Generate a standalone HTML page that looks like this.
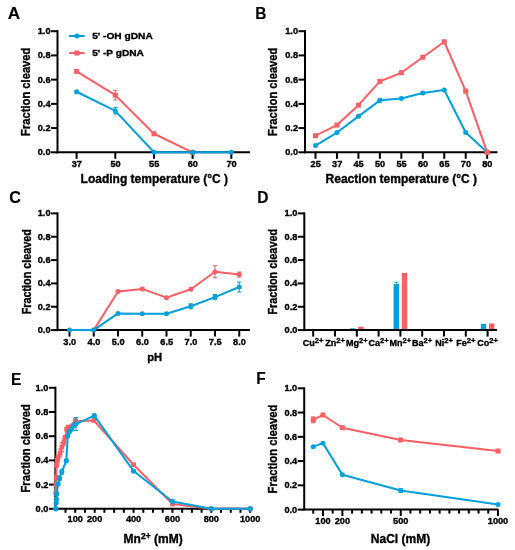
<!DOCTYPE html>
<html><head><meta charset="utf-8"><title>Figure</title>
<style>
html,body{margin:0;padding:0;background:#fff;}
body{width:515px;height:550px;overflow:hidden;}
svg{display:block;}
svg text{font-family:"Liberation Sans", Arial, sans-serif;font-weight:bold;fill:#000;stroke:#000;stroke-width:0.35px;}
</style></head><body>
<svg width="515" height="550" viewBox="0 0 515 550">
<rect width="515" height="550" fill="#fff"/>
<text transform="translate(7.7,18.6) scale(1.04,1)" font-size="16.5" style="stroke-width:0.15px">A</text>
<text transform="translate(29.7,91.75) rotate(-90) scale(0.918,1)" font-size="12.2" text-anchor="middle">Fraction cleaved</text>
<line x1="57.5" y1="30.2" x2="57.5" y2="153.3" stroke="#000" stroke-width="2"/>
<line x1="51" y1="152.3" x2="57.5" y2="152.3" stroke="#000" stroke-width="2"/>
<text x="50.5" y="155.3" font-size="9.2" text-anchor="end" >0.0</text>
<line x1="51" y1="128.08" x2="57.5" y2="128.08" stroke="#000" stroke-width="2"/>
<text x="50.5" y="131.08" font-size="9.2" text-anchor="end" >0.2</text>
<line x1="51" y1="103.86" x2="57.5" y2="103.86" stroke="#000" stroke-width="2"/>
<text x="50.5" y="106.86" font-size="9.2" text-anchor="end" >0.4</text>
<line x1="51" y1="79.64" x2="57.5" y2="79.64" stroke="#000" stroke-width="2"/>
<text x="50.5" y="82.64" font-size="9.2" text-anchor="end" >0.6</text>
<line x1="51" y1="55.42" x2="57.5" y2="55.42" stroke="#000" stroke-width="2"/>
<text x="50.5" y="58.42" font-size="9.2" text-anchor="end" >0.8</text>
<line x1="51" y1="31.2" x2="57.5" y2="31.2" stroke="#000" stroke-width="2"/>
<text x="50.5" y="34.2" font-size="9.2" text-anchor="end" >1.0</text>
<line x1="56.5" y1="152.3" x2="250" y2="152.3" stroke="#000" stroke-width="2"/>
<line x1="76.6" y1="152.3" x2="76.6" y2="158.8" stroke="#000" stroke-width="2"/>
<text x="76.8" y="166.8" font-size="9.2" text-anchor="middle" >37</text>
<line x1="115.3" y1="152.3" x2="115.3" y2="158.8" stroke="#000" stroke-width="2"/>
<text x="115.5" y="166.8" font-size="9.2" text-anchor="middle" >50</text>
<line x1="154" y1="152.3" x2="154" y2="158.8" stroke="#000" stroke-width="2"/>
<text x="154.2" y="166.8" font-size="9.2" text-anchor="middle" >55</text>
<line x1="192.6" y1="152.3" x2="192.6" y2="158.8" stroke="#000" stroke-width="2"/>
<text x="192.8" y="166.8" font-size="9.2" text-anchor="middle" >60</text>
<line x1="231.3" y1="152.3" x2="231.3" y2="158.8" stroke="#000" stroke-width="2"/>
<text x="231.5" y="166.8" font-size="9.2" text-anchor="middle" >70</text>
<text x="154.35" y="182.6" font-size="12" text-anchor="middle" >Loading temperature (°C )</text>
<polyline points="76.6,71.41 115.3,95.14 154,133.77 192.6,152.3" fill="none" stroke="#fa5f64" stroke-width="2" stroke-linejoin="round"/>
<path d="M113.1,90.34H117.5M115.3,90.34V99.94M113.1,99.94H117.5" stroke="#fa5f64" stroke-width="1" fill="none"/>
<rect x="74.1" y="68.91" width="5" height="5" fill="#fa5f64"/>
<rect x="112.8" y="92.64" width="5" height="5" fill="#fa5f64"/>
<rect x="151.5" y="131.27" width="5" height="5" fill="#fa5f64"/>
<rect x="190.1" y="149.8" width="5" height="5" fill="#fa5f64"/>
<polyline points="76.6,91.75 115.3,110.88 154,152.3 192.6,152.3 231.3,152.3" fill="none" stroke="#00a0dc" stroke-width="2" stroke-linejoin="round"/>
<path d="M113.1,107.68H117.5M115.3,107.68V114.08M113.1,114.08H117.5" stroke="#00a0dc" stroke-width="1" fill="none"/>
<circle cx="76.6" cy="91.75" r="2.5" fill="#00a0dc"/>
<circle cx="115.3" cy="110.88" r="2.5" fill="#00a0dc"/>
<circle cx="154" cy="152.3" r="2.5" fill="#00a0dc"/>
<circle cx="192.6" cy="152.3" r="2.5" fill="#00a0dc"/>
<circle cx="231.3" cy="152.3" r="2.5" fill="#00a0dc"/>
<line x1="69.1" y1="36" x2="84.6" y2="36" stroke="#00a0dc" stroke-width="2"/>
<circle cx="76.8" cy="36" r="2.5" fill="#00a0dc"/>
<line x1="69.1" y1="53" x2="84.6" y2="53" stroke="#fa5f64" stroke-width="2"/>
<rect x="74.4" y="50.5" width="5" height="5" fill="#fa5f64"/>
<text x="92.2" y="39.1" font-size="9.3" textLength="60.6" lengthAdjust="spacingAndGlyphs">5' -OH gDNA</text>
<text x="92.2" y="55.8" font-size="9.3" textLength="51.6" lengthAdjust="spacingAndGlyphs">5' -P gDNA</text>
<text transform="translate(255.2,18.6) scale(0.94,1)" font-size="16.5" style="stroke-width:0.15px">B</text>
<text transform="translate(277.3,91.75) rotate(-90) scale(0.918,1)" font-size="12.2" text-anchor="middle">Fraction cleaved</text>
<line x1="305" y1="30.2" x2="305" y2="153.3" stroke="#000" stroke-width="2"/>
<line x1="298.5" y1="152.3" x2="305" y2="152.3" stroke="#000" stroke-width="2"/>
<text x="298" y="155.3" font-size="9.2" text-anchor="end" >0.0</text>
<line x1="298.5" y1="128.08" x2="305" y2="128.08" stroke="#000" stroke-width="2"/>
<text x="298" y="131.08" font-size="9.2" text-anchor="end" >0.2</text>
<line x1="298.5" y1="103.86" x2="305" y2="103.86" stroke="#000" stroke-width="2"/>
<text x="298" y="106.86" font-size="9.2" text-anchor="end" >0.4</text>
<line x1="298.5" y1="79.64" x2="305" y2="79.64" stroke="#000" stroke-width="2"/>
<text x="298" y="82.64" font-size="9.2" text-anchor="end" >0.6</text>
<line x1="298.5" y1="55.42" x2="305" y2="55.42" stroke="#000" stroke-width="2"/>
<text x="298" y="58.42" font-size="9.2" text-anchor="end" >0.8</text>
<line x1="298.5" y1="31.2" x2="305" y2="31.2" stroke="#000" stroke-width="2"/>
<text x="298" y="34.2" font-size="9.2" text-anchor="end" >1.0</text>
<line x1="304" y1="152.3" x2="497.5" y2="152.3" stroke="#000" stroke-width="2"/>
<line x1="315.5" y1="152.3" x2="315.5" y2="158.8" stroke="#000" stroke-width="2"/>
<text x="315.7" y="166.8" font-size="9.2" text-anchor="middle" >25</text>
<line x1="336.96" y1="152.3" x2="336.96" y2="158.8" stroke="#000" stroke-width="2"/>
<text x="337.16" y="166.8" font-size="9.2" text-anchor="middle" >37</text>
<line x1="358.42" y1="152.3" x2="358.42" y2="158.8" stroke="#000" stroke-width="2"/>
<text x="358.62" y="166.8" font-size="9.2" text-anchor="middle" >45</text>
<line x1="379.88" y1="152.3" x2="379.88" y2="158.8" stroke="#000" stroke-width="2"/>
<text x="380.08" y="166.8" font-size="9.2" text-anchor="middle" >50</text>
<line x1="401.34" y1="152.3" x2="401.34" y2="158.8" stroke="#000" stroke-width="2"/>
<text x="401.54" y="166.8" font-size="9.2" text-anchor="middle" >55</text>
<line x1="422.8" y1="152.3" x2="422.8" y2="158.8" stroke="#000" stroke-width="2"/>
<text x="423" y="166.8" font-size="9.2" text-anchor="middle" >60</text>
<line x1="444.26" y1="152.3" x2="444.26" y2="158.8" stroke="#000" stroke-width="2"/>
<text x="444.46" y="166.8" font-size="9.2" text-anchor="middle" >65</text>
<line x1="465.72" y1="152.3" x2="465.72" y2="158.8" stroke="#000" stroke-width="2"/>
<text x="465.92" y="166.8" font-size="9.2" text-anchor="middle" >70</text>
<line x1="487.18" y1="152.3" x2="487.18" y2="158.8" stroke="#000" stroke-width="2"/>
<text x="487.38" y="166.8" font-size="9.2" text-anchor="middle" >80</text>
<text x="401.3" y="182.6" font-size="12" text-anchor="middle" >Reaction temperature (°C )</text>
<polyline points="315.5,145.52 336.96,132.56 358.42,116.33 379.88,100.35 401.34,98.53 422.8,93.08 444.26,89.93 465.72,132.56 487.18,152.3" fill="none" stroke="#00a0dc" stroke-width="2" stroke-linejoin="round"/>
<path d="M377.68,98.55H382.08M379.88,98.55V102.15M377.68,102.15H382.08" stroke="#00a0dc" stroke-width="1" fill="none"/>
<circle cx="315.5" cy="145.52" r="2.5" fill="#00a0dc"/>
<circle cx="336.96" cy="132.56" r="2.5" fill="#00a0dc"/>
<circle cx="358.42" cy="116.33" r="2.5" fill="#00a0dc"/>
<circle cx="379.88" cy="100.35" r="2.5" fill="#00a0dc"/>
<circle cx="401.34" cy="98.53" r="2.5" fill="#00a0dc"/>
<circle cx="422.8" cy="93.08" r="2.5" fill="#00a0dc"/>
<circle cx="444.26" cy="89.93" r="2.5" fill="#00a0dc"/>
<circle cx="465.72" cy="132.56" r="2.5" fill="#00a0dc"/>
<circle cx="487.18" cy="152.3" r="2.5" fill="#00a0dc"/>
<polyline points="315.5,135.71 336.96,125.05 358.42,105.19 379.88,81.34 401.34,72.74 422.8,57.24 444.26,41.74 465.72,91.14 487.18,152.3" fill="none" stroke="#fa5f64" stroke-width="2" stroke-linejoin="round"/>
<rect x="313" y="133.21" width="5" height="5" fill="#fa5f64"/>
<rect x="334.46" y="122.55" width="5" height="5" fill="#fa5f64"/>
<rect x="355.92" y="102.69" width="5" height="5" fill="#fa5f64"/>
<rect x="377.38" y="78.84" width="5" height="5" fill="#fa5f64"/>
<rect x="398.84" y="70.24" width="5" height="5" fill="#fa5f64"/>
<rect x="420.3" y="54.74" width="5" height="5" fill="#fa5f64"/>
<rect x="441.76" y="39.24" width="5" height="5" fill="#fa5f64"/>
<rect x="463.22" y="88.64" width="5" height="5" fill="#fa5f64"/>
<rect x="484.68" y="149.8" width="5" height="5" fill="#fa5f64"/>
<text transform="translate(9.3,203.3) scale(0.98,1)" font-size="16.5" style="stroke-width:0.15px">C</text>
<text transform="translate(31.2,271.75) rotate(-90) scale(0.883,1)" font-size="12.2" text-anchor="middle">Fraction cleaved</text>
<line x1="57.5" y1="212.4" x2="57.5" y2="331.1" stroke="#000" stroke-width="2"/>
<line x1="51" y1="330.1" x2="57.5" y2="330.1" stroke="#000" stroke-width="2"/>
<text x="50.5" y="333.1" font-size="9.2" text-anchor="end" >0.0</text>
<line x1="51" y1="306.76" x2="57.5" y2="306.76" stroke="#000" stroke-width="2"/>
<text x="50.5" y="309.76" font-size="9.2" text-anchor="end" >0.2</text>
<line x1="51" y1="283.42" x2="57.5" y2="283.42" stroke="#000" stroke-width="2"/>
<text x="50.5" y="286.42" font-size="9.2" text-anchor="end" >0.4</text>
<line x1="51" y1="260.08" x2="57.5" y2="260.08" stroke="#000" stroke-width="2"/>
<text x="50.5" y="263.08" font-size="9.2" text-anchor="end" >0.6</text>
<line x1="51" y1="236.74" x2="57.5" y2="236.74" stroke="#000" stroke-width="2"/>
<text x="50.5" y="239.74" font-size="9.2" text-anchor="end" >0.8</text>
<line x1="51" y1="213.4" x2="57.5" y2="213.4" stroke="#000" stroke-width="2"/>
<text x="50.5" y="216.4" font-size="9.2" text-anchor="end" >1.0</text>
<line x1="56.5" y1="330.1" x2="250" y2="330.1" stroke="#000" stroke-width="2"/>
<line x1="69.5" y1="330.1" x2="69.5" y2="336.6" stroke="#000" stroke-width="2"/>
<text x="69.7" y="344.6" font-size="9.2" text-anchor="middle" >3.0</text>
<line x1="93.75" y1="330.1" x2="93.75" y2="336.6" stroke="#000" stroke-width="2"/>
<text x="93.95" y="344.6" font-size="9.2" text-anchor="middle" >4.0</text>
<line x1="118" y1="330.1" x2="118" y2="336.6" stroke="#000" stroke-width="2"/>
<text x="118.2" y="344.6" font-size="9.2" text-anchor="middle" >5.0</text>
<line x1="142.25" y1="330.1" x2="142.25" y2="336.6" stroke="#000" stroke-width="2"/>
<text x="142.45" y="344.6" font-size="9.2" text-anchor="middle" >6.0</text>
<line x1="166.5" y1="330.1" x2="166.5" y2="336.6" stroke="#000" stroke-width="2"/>
<text x="166.7" y="344.6" font-size="9.2" text-anchor="middle" >6.5</text>
<line x1="190.75" y1="330.1" x2="190.75" y2="336.6" stroke="#000" stroke-width="2"/>
<text x="190.95" y="344.6" font-size="9.2" text-anchor="middle" >7.0</text>
<line x1="215" y1="330.1" x2="215" y2="336.6" stroke="#000" stroke-width="2"/>
<text x="215.2" y="344.6" font-size="9.2" text-anchor="middle" >7.5</text>
<line x1="239.25" y1="330.1" x2="239.25" y2="336.6" stroke="#000" stroke-width="2"/>
<text x="239.45" y="344.6" font-size="9.2" text-anchor="middle" >8.0</text>
<text x="154.6" y="361.2" font-size="11.2" text-anchor="middle" >pH</text>
<polyline points="93.75,330.1 118,291.59 142.25,288.9 166.5,297.66 190.75,289.25 215,271.75 239.25,274.55" fill="none" stroke="#fa5f64" stroke-width="2" stroke-linejoin="round"/>
<path d="M140.05,287.4H144.45M142.25,287.4V290.4M140.05,290.4H144.45" stroke="#fa5f64" stroke-width="1" fill="none"/>
<path d="M212.8,265.75H217.2M215,265.75V277.75M212.8,277.75H217.2" stroke="#fa5f64" stroke-width="1" fill="none"/>
<path d="M237.05,272.05H241.45M239.25,272.05V277.05M237.05,277.05H241.45" stroke="#fa5f64" stroke-width="1" fill="none"/>
<circle cx="93.75" cy="330.1" r="2.5" fill="#fa5f64"/>
<circle cx="118" cy="291.59" r="2.5" fill="#fa5f64"/>
<circle cx="142.25" cy="288.9" r="2.5" fill="#fa5f64"/>
<circle cx="166.5" cy="297.66" r="2.5" fill="#fa5f64"/>
<circle cx="190.75" cy="289.25" r="2.5" fill="#fa5f64"/>
<circle cx="215" cy="271.75" r="2.5" fill="#fa5f64"/>
<circle cx="239.25" cy="274.55" r="2.5" fill="#fa5f64"/>
<polyline points="69.5,330.1 93.75,330.1 118,313.41 142.25,313.76 166.5,313.76 190.75,306.29 215,297.07 239.25,287.04" fill="none" stroke="#00a0dc" stroke-width="2" stroke-linejoin="round"/>
<path d="M188.55,303.79H192.95M190.75,303.79V308.79M188.55,308.79H192.95" stroke="#00a0dc" stroke-width="1" fill="none"/>
<path d="M212.8,294.57H217.2M215,294.57V299.57M212.8,299.57H217.2" stroke="#00a0dc" stroke-width="1" fill="none"/>
<path d="M237.05,282.04H241.45M239.25,282.04V292.04M237.05,292.04H241.45" stroke="#00a0dc" stroke-width="1" fill="none"/>
<circle cx="69.5" cy="330.1" r="2.5" fill="#00a0dc"/>
<circle cx="93.75" cy="330.1" r="2.5" fill="#00a0dc"/>
<circle cx="118" cy="313.41" r="2.5" fill="#00a0dc"/>
<circle cx="142.25" cy="313.76" r="2.5" fill="#00a0dc"/>
<circle cx="166.5" cy="313.76" r="2.5" fill="#00a0dc"/>
<circle cx="190.75" cy="306.29" r="2.5" fill="#00a0dc"/>
<circle cx="215" cy="297.07" r="2.5" fill="#00a0dc"/>
<circle cx="239.25" cy="287.04" r="2.5" fill="#00a0dc"/>
<text transform="translate(257.2,202.8) scale(0.94,1)" font-size="16.5" style="stroke-width:0.15px">D</text>
<text transform="translate(276.7,271.75) rotate(-90) scale(0.891,1)" font-size="12.2" text-anchor="middle">Fraction cleaved</text>
<rect x="350" y="328.35" width="5.4" height="1.75" fill="#00a0dc"/>
<rect x="393.6" y="284" width="5.4" height="46.1" fill="#00a0dc"/>
<rect x="480.8" y="323.8" width="5.4" height="6.3" fill="#00a0dc"/>
<rect x="358.2" y="326.6" width="5.4" height="3.5" fill="#fa5f64"/>
<rect x="401.8" y="272.92" width="5.4" height="57.18" fill="#fa5f64"/>
<rect x="489" y="323.45" width="5.4" height="6.65" fill="#fa5f64"/>
<path d="M394.3,282.25H398.3M396.3,282.25V284" stroke="#00a0dc" stroke-width="1"/>
<line x1="304.3" y1="212.4" x2="304.3" y2="331.1" stroke="#000" stroke-width="2"/>
<line x1="297.8" y1="330.1" x2="304.3" y2="330.1" stroke="#000" stroke-width="2"/>
<text x="297.3" y="333.1" font-size="9.2" text-anchor="end" >0.0</text>
<line x1="297.8" y1="306.76" x2="304.3" y2="306.76" stroke="#000" stroke-width="2"/>
<text x="297.3" y="309.76" font-size="9.2" text-anchor="end" >0.2</text>
<line x1="297.8" y1="283.42" x2="304.3" y2="283.42" stroke="#000" stroke-width="2"/>
<text x="297.3" y="286.42" font-size="9.2" text-anchor="end" >0.4</text>
<line x1="297.8" y1="260.08" x2="304.3" y2="260.08" stroke="#000" stroke-width="2"/>
<text x="297.3" y="263.08" font-size="9.2" text-anchor="end" >0.6</text>
<line x1="297.8" y1="236.74" x2="304.3" y2="236.74" stroke="#000" stroke-width="2"/>
<text x="297.3" y="239.74" font-size="9.2" text-anchor="end" >0.8</text>
<line x1="297.8" y1="213.4" x2="304.3" y2="213.4" stroke="#000" stroke-width="2"/>
<text x="297.3" y="216.4" font-size="9.2" text-anchor="end" >1.0</text>
<line x1="303.3" y1="330.1" x2="497" y2="330.1" stroke="#000" stroke-width="2"/>
<line x1="313.2" y1="330.1" x2="313.2" y2="336.6" stroke="#000" stroke-width="2"/>
<text x="313.2" y="345.6" font-size="9" text-anchor="middle">Cu<tspan font-size="7.6" dy="-2.2">2+</tspan></text>
<line x1="335" y1="330.1" x2="335" y2="336.6" stroke="#000" stroke-width="2"/>
<text x="335" y="345.6" font-size="9" text-anchor="middle">Zn<tspan font-size="7.6" dy="-2.2">2+</tspan></text>
<line x1="356.8" y1="330.1" x2="356.8" y2="336.6" stroke="#000" stroke-width="2"/>
<text x="356.8" y="345.6" font-size="9" text-anchor="middle">Mg<tspan font-size="7.6" dy="-2.2">2+</tspan></text>
<line x1="378.6" y1="330.1" x2="378.6" y2="336.6" stroke="#000" stroke-width="2"/>
<text x="378.6" y="345.6" font-size="9" text-anchor="middle">Ca<tspan font-size="7.6" dy="-2.2">2+</tspan></text>
<line x1="400.4" y1="330.1" x2="400.4" y2="336.6" stroke="#000" stroke-width="2"/>
<text x="400.4" y="345.6" font-size="9" text-anchor="middle">Mn<tspan font-size="7.6" dy="-2.2">2+</tspan></text>
<line x1="422.2" y1="330.1" x2="422.2" y2="336.6" stroke="#000" stroke-width="2"/>
<text x="422.2" y="345.6" font-size="9" text-anchor="middle">Ba<tspan font-size="7.6" dy="-2.2">2+</tspan></text>
<line x1="444" y1="330.1" x2="444" y2="336.6" stroke="#000" stroke-width="2"/>
<text x="444" y="345.6" font-size="9" text-anchor="middle">Ni<tspan font-size="7.6" dy="-2.2">2+</tspan></text>
<line x1="465.8" y1="330.1" x2="465.8" y2="336.6" stroke="#000" stroke-width="2"/>
<text x="465.8" y="345.6" font-size="9" text-anchor="middle">Fe<tspan font-size="7.6" dy="-2.2">2+</tspan></text>
<line x1="487.6" y1="330.1" x2="487.6" y2="336.6" stroke="#000" stroke-width="2"/>
<text x="487.6" y="345.6" font-size="9" text-anchor="middle">Co<tspan font-size="7.6" dy="-2.2">2+</tspan></text>
<text transform="translate(11,384.7) scale(0.94,1)" font-size="16.5" style="stroke-width:0.15px">E</text>
<text transform="translate(30.1,448.3) rotate(-90) scale(0.918,1)" font-size="12.2" text-anchor="middle">Fraction cleaved</text>
<line x1="55.4" y1="386.8" x2="55.4" y2="509.8" stroke="#000" stroke-width="2"/>
<line x1="48.9" y1="508.8" x2="55.4" y2="508.8" stroke="#000" stroke-width="2"/>
<text x="48.4" y="511.8" font-size="9.2" text-anchor="end" >0.0</text>
<line x1="48.9" y1="484.6" x2="55.4" y2="484.6" stroke="#000" stroke-width="2"/>
<text x="48.4" y="487.6" font-size="9.2" text-anchor="end" >0.2</text>
<line x1="48.9" y1="460.4" x2="55.4" y2="460.4" stroke="#000" stroke-width="2"/>
<text x="48.4" y="463.4" font-size="9.2" text-anchor="end" >0.4</text>
<line x1="48.9" y1="436.2" x2="55.4" y2="436.2" stroke="#000" stroke-width="2"/>
<text x="48.4" y="439.2" font-size="9.2" text-anchor="end" >0.6</text>
<line x1="48.9" y1="412" x2="55.4" y2="412" stroke="#000" stroke-width="2"/>
<text x="48.4" y="415" font-size="9.2" text-anchor="end" >0.8</text>
<line x1="48.9" y1="387.8" x2="55.4" y2="387.8" stroke="#000" stroke-width="2"/>
<text x="48.4" y="390.8" font-size="9.2" text-anchor="end" >1.0</text>
<line x1="54.4" y1="508.8" x2="250.5" y2="508.8" stroke="#000" stroke-width="2"/>
<line x1="65.52" y1="508.8" x2="65.52" y2="512.8" stroke="#000" stroke-width="2"/>
<line x1="75.24" y1="508.8" x2="75.24" y2="512.8" stroke="#000" stroke-width="2"/>
<line x1="84.96" y1="508.8" x2="84.96" y2="512.8" stroke="#000" stroke-width="2"/>
<line x1="94.68" y1="508.8" x2="94.68" y2="512.8" stroke="#000" stroke-width="2"/>
<line x1="104.4" y1="508.8" x2="104.4" y2="512.8" stroke="#000" stroke-width="2"/>
<line x1="114.12" y1="508.8" x2="114.12" y2="512.8" stroke="#000" stroke-width="2"/>
<line x1="123.84" y1="508.8" x2="123.84" y2="512.8" stroke="#000" stroke-width="2"/>
<line x1="133.56" y1="508.8" x2="133.56" y2="512.8" stroke="#000" stroke-width="2"/>
<line x1="143.28" y1="508.8" x2="143.28" y2="512.8" stroke="#000" stroke-width="2"/>
<line x1="153" y1="508.8" x2="153" y2="512.8" stroke="#000" stroke-width="2"/>
<line x1="162.72" y1="508.8" x2="162.72" y2="512.8" stroke="#000" stroke-width="2"/>
<line x1="172.44" y1="508.8" x2="172.44" y2="512.8" stroke="#000" stroke-width="2"/>
<line x1="182.16" y1="508.8" x2="182.16" y2="512.8" stroke="#000" stroke-width="2"/>
<line x1="191.88" y1="508.8" x2="191.88" y2="512.8" stroke="#000" stroke-width="2"/>
<line x1="201.6" y1="508.8" x2="201.6" y2="512.8" stroke="#000" stroke-width="2"/>
<line x1="211.32" y1="508.8" x2="211.32" y2="512.8" stroke="#000" stroke-width="2"/>
<line x1="221.04" y1="508.8" x2="221.04" y2="512.8" stroke="#000" stroke-width="2"/>
<line x1="230.76" y1="508.8" x2="230.76" y2="512.8" stroke="#000" stroke-width="2"/>
<line x1="240.48" y1="508.8" x2="240.48" y2="512.8" stroke="#000" stroke-width="2"/>
<line x1="250.2" y1="508.8" x2="250.2" y2="512.8" stroke="#000" stroke-width="2"/>
<text x="75.24" y="522.4" font-size="9.2" text-anchor="middle" >100</text>
<text x="94.68" y="522.4" font-size="9.2" text-anchor="middle" >200</text>
<text x="133.56" y="522.4" font-size="9.2" text-anchor="middle" >400</text>
<text x="172.44" y="522.4" font-size="9.2" text-anchor="middle" >600</text>
<text x="211.32" y="522.4" font-size="9.2" text-anchor="middle" >800</text>
<text x="250.2" y="522.4" font-size="9.2" text-anchor="middle" >1000</text>
<text x="123.6" y="543.2" font-size="12" text-anchor="start">Mn<tspan font-size="8.6" dy="-4.2">2+</tspan><tspan dy="4.2"> (mM)</tspan></text>
<polyline points="55.8,493.07 55.99,484.6 56.19,477.34 56.58,465.24 57.36,460.4 57.94,457.98 60.08,453.14 61.83,447.09 63.96,442.25 65.13,437.41 66.69,429.18 68.44,427.12 75.43,420.95 93.9,420.47 133.56,464.76 172.44,503.96 211.32,508.8 250.2,508.8" fill="none" stroke="#fa5f64" stroke-width="2" stroke-linejoin="round"/>
<path d="M57.88,449.14H62.28M60.08,449.14V457.14M57.88,457.14H62.28" stroke="#fa5f64" stroke-width="1" fill="none"/>
<path d="M59.63,442.59H64.03M61.83,442.59V451.59M59.63,451.59H64.03" stroke="#fa5f64" stroke-width="1" fill="none"/>
<path d="M61.76,438.75H66.16M63.96,438.75V445.75M61.76,445.75H66.16" stroke="#fa5f64" stroke-width="1" fill="none"/>
<path d="M55.74,454.98H60.14M57.94,454.98V460.98M55.74,460.98H60.14" stroke="#fa5f64" stroke-width="1" fill="none"/>
<path d="M73.23,418.45H77.63M75.43,418.45V423.45M73.23,423.45H77.63" stroke="#fa5f64" stroke-width="1" fill="none"/>
<rect x="53.4" y="490.67" width="4.8" height="4.8" fill="#fa5f64"/>
<rect x="53.59" y="482.2" width="4.8" height="4.8" fill="#fa5f64"/>
<rect x="53.79" y="474.94" width="4.8" height="4.8" fill="#fa5f64"/>
<rect x="54.18" y="462.84" width="4.8" height="4.8" fill="#fa5f64"/>
<rect x="54.96" y="458" width="4.8" height="4.8" fill="#fa5f64"/>
<rect x="55.54" y="455.58" width="4.8" height="4.8" fill="#fa5f64"/>
<rect x="57.68" y="450.74" width="4.8" height="4.8" fill="#fa5f64"/>
<rect x="59.43" y="444.69" width="4.8" height="4.8" fill="#fa5f64"/>
<rect x="61.56" y="439.85" width="4.8" height="4.8" fill="#fa5f64"/>
<rect x="62.73" y="435.01" width="4.8" height="4.8" fill="#fa5f64"/>
<rect x="64.29" y="426.78" width="4.8" height="4.8" fill="#fa5f64"/>
<rect x="66.04" y="424.73" width="4.8" height="4.8" fill="#fa5f64"/>
<rect x="73.03" y="418.55" width="4.8" height="4.8" fill="#fa5f64"/>
<rect x="91.5" y="418.07" width="4.8" height="4.8" fill="#fa5f64"/>
<rect x="131.16" y="462.36" width="4.8" height="4.8" fill="#fa5f64"/>
<rect x="170.04" y="501.56" width="4.8" height="4.8" fill="#fa5f64"/>
<rect x="208.92" y="506.4" width="4.8" height="4.8" fill="#fa5f64"/>
<rect x="247.8" y="506.4" width="4.8" height="4.8" fill="#fa5f64"/>
<polyline points="55.8,508.8 56.19,502.75 56.38,499.12 56.77,493.68 58.13,483.75 59.49,478.31 61.83,471.77 66.3,460.64 67.85,435.6 69.41,431.6 71.55,428.94 73.88,425.67 76.02,424.1 94.29,415.63 133.56,471.05 172.44,501.42 211.32,508.8 250.2,508.8" fill="none" stroke="#00a0dc" stroke-width="2" stroke-linejoin="round"/>
<path d="M73.82,417.6H78.22M76.02,417.6V430.6M73.82,430.6H78.22" stroke="#00a0dc" stroke-width="1" fill="none"/>
<path d="M57.29,475.81H61.69M59.49,475.81V480.81M57.29,480.81H61.69" stroke="#00a0dc" stroke-width="1" fill="none"/>
<path d="M59.63,469.27H64.03M61.83,469.27V474.27M59.63,474.27H64.03" stroke="#00a0dc" stroke-width="1" fill="none"/>
<circle cx="55.8" cy="508.8" r="2.6" fill="#00a0dc"/>
<circle cx="56.19" cy="502.75" r="2.6" fill="#00a0dc"/>
<circle cx="56.38" cy="499.12" r="2.6" fill="#00a0dc"/>
<circle cx="56.77" cy="493.68" r="2.6" fill="#00a0dc"/>
<circle cx="58.13" cy="483.75" r="2.6" fill="#00a0dc"/>
<circle cx="59.49" cy="478.31" r="2.6" fill="#00a0dc"/>
<circle cx="61.83" cy="471.77" r="2.6" fill="#00a0dc"/>
<circle cx="66.3" cy="460.64" r="2.6" fill="#00a0dc"/>
<circle cx="67.85" cy="435.6" r="2.6" fill="#00a0dc"/>
<circle cx="69.41" cy="431.6" r="2.6" fill="#00a0dc"/>
<circle cx="71.55" cy="428.94" r="2.6" fill="#00a0dc"/>
<circle cx="73.88" cy="425.67" r="2.6" fill="#00a0dc"/>
<circle cx="76.02" cy="424.1" r="2.6" fill="#00a0dc"/>
<circle cx="94.29" cy="415.63" r="2.6" fill="#00a0dc"/>
<circle cx="133.56" cy="471.05" r="2.6" fill="#00a0dc"/>
<circle cx="172.44" cy="501.42" r="2.6" fill="#00a0dc"/>
<circle cx="211.32" cy="508.8" r="2.6" fill="#00a0dc"/>
<circle cx="250.2" cy="508.8" r="2.6" fill="#00a0dc"/>
<text transform="translate(256.2,384.2) scale(0.94,1)" font-size="16.5" style="stroke-width:0.15px">F</text>
<text transform="translate(277.1,448.95) rotate(-90) scale(0.924,1)" font-size="12.2" text-anchor="middle">Fraction cleaved</text>
<line x1="304.2" y1="387.3" x2="304.2" y2="510.6" stroke="#000" stroke-width="2"/>
<line x1="297.7" y1="509.6" x2="304.2" y2="509.6" stroke="#000" stroke-width="2"/>
<text x="297.2" y="512.6" font-size="9.2" text-anchor="end" >0.0</text>
<line x1="297.7" y1="485.34" x2="304.2" y2="485.34" stroke="#000" stroke-width="2"/>
<text x="297.2" y="488.34" font-size="9.2" text-anchor="end" >0.2</text>
<line x1="297.7" y1="461.08" x2="304.2" y2="461.08" stroke="#000" stroke-width="2"/>
<text x="297.2" y="464.08" font-size="9.2" text-anchor="end" >0.4</text>
<line x1="297.7" y1="436.82" x2="304.2" y2="436.82" stroke="#000" stroke-width="2"/>
<text x="297.2" y="439.82" font-size="9.2" text-anchor="end" >0.6</text>
<line x1="297.7" y1="412.56" x2="304.2" y2="412.56" stroke="#000" stroke-width="2"/>
<text x="297.2" y="415.56" font-size="9.2" text-anchor="end" >0.8</text>
<line x1="297.7" y1="388.3" x2="304.2" y2="388.3" stroke="#000" stroke-width="2"/>
<text x="297.2" y="391.3" font-size="9.2" text-anchor="end" >1.0</text>
<line x1="303.2" y1="509.6" x2="498.5" y2="509.6" stroke="#000" stroke-width="2"/>
<line x1="313.23" y1="509.6" x2="313.23" y2="513.6" stroke="#000" stroke-width="2"/>
<line x1="322.95" y1="509.6" x2="322.95" y2="516" stroke="#000" stroke-width="2"/>
<line x1="332.68" y1="509.6" x2="332.68" y2="513.6" stroke="#000" stroke-width="2"/>
<line x1="342.4" y1="509.6" x2="342.4" y2="516" stroke="#000" stroke-width="2"/>
<line x1="352.12" y1="509.6" x2="352.12" y2="513.6" stroke="#000" stroke-width="2"/>
<line x1="361.85" y1="509.6" x2="361.85" y2="513.6" stroke="#000" stroke-width="2"/>
<line x1="371.57" y1="509.6" x2="371.57" y2="513.6" stroke="#000" stroke-width="2"/>
<line x1="381.3" y1="509.6" x2="381.3" y2="513.6" stroke="#000" stroke-width="2"/>
<line x1="391.02" y1="509.6" x2="391.02" y2="513.6" stroke="#000" stroke-width="2"/>
<line x1="400.75" y1="509.6" x2="400.75" y2="516" stroke="#000" stroke-width="2"/>
<line x1="410.48" y1="509.6" x2="410.48" y2="513.6" stroke="#000" stroke-width="2"/>
<line x1="420.2" y1="509.6" x2="420.2" y2="513.6" stroke="#000" stroke-width="2"/>
<line x1="429.93" y1="509.6" x2="429.93" y2="513.6" stroke="#000" stroke-width="2"/>
<line x1="439.65" y1="509.6" x2="439.65" y2="513.6" stroke="#000" stroke-width="2"/>
<line x1="449.38" y1="509.6" x2="449.38" y2="513.6" stroke="#000" stroke-width="2"/>
<line x1="459.1" y1="509.6" x2="459.1" y2="513.6" stroke="#000" stroke-width="2"/>
<line x1="468.83" y1="509.6" x2="468.83" y2="513.6" stroke="#000" stroke-width="2"/>
<line x1="478.55" y1="509.6" x2="478.55" y2="513.6" stroke="#000" stroke-width="2"/>
<line x1="488.27" y1="509.6" x2="488.27" y2="513.6" stroke="#000" stroke-width="2"/>
<line x1="498" y1="509.6" x2="498" y2="516" stroke="#000" stroke-width="2"/>
<text x="322.95" y="523.7" font-size="9.2" text-anchor="middle" >100</text>
<text x="342.4" y="523.7" font-size="9.2" text-anchor="middle" >200</text>
<text x="400.75" y="523.7" font-size="9.2" text-anchor="middle" >500</text>
<text x="498" y="523.7" font-size="9.2" text-anchor="middle" >1000</text>
<text x="400.5" y="543.3" font-size="12" text-anchor="middle" >NaCl (mM)</text>
<polyline points="313.23,419.84 322.95,414.99 342.4,427.72 400.75,439.97 498,451.01" fill="none" stroke="#fa5f64" stroke-width="2" stroke-linejoin="round"/>
<path d="M311.03,416.84H315.43M313.23,416.84V422.84M311.03,422.84H315.43" stroke="#fa5f64" stroke-width="1" fill="none"/>
<rect x="310.73" y="417.34" width="5" height="5" fill="#fa5f64"/>
<rect x="320.45" y="412.49" width="5" height="5" fill="#fa5f64"/>
<rect x="339.9" y="425.22" width="5" height="5" fill="#fa5f64"/>
<rect x="398.25" y="437.47" width="5" height="5" fill="#fa5f64"/>
<rect x="495.5" y="448.51" width="5" height="5" fill="#fa5f64"/>
<polyline points="313.23,446.65 322.95,443.13 342.4,474.67 400.75,490.56 498,504.51" fill="none" stroke="#00a0dc" stroke-width="2" stroke-linejoin="round"/>
<path d="M398.55,488.76H402.95M400.75,488.76V492.36M398.55,492.36H402.95" stroke="#00a0dc" stroke-width="1" fill="none"/>
<circle cx="313.23" cy="446.65" r="2.5" fill="#00a0dc"/>
<circle cx="322.95" cy="443.13" r="2.5" fill="#00a0dc"/>
<circle cx="342.4" cy="474.67" r="2.5" fill="#00a0dc"/>
<circle cx="400.75" cy="490.56" r="2.5" fill="#00a0dc"/>
<circle cx="498" cy="504.51" r="2.5" fill="#00a0dc"/>
</svg>
</body></html>
